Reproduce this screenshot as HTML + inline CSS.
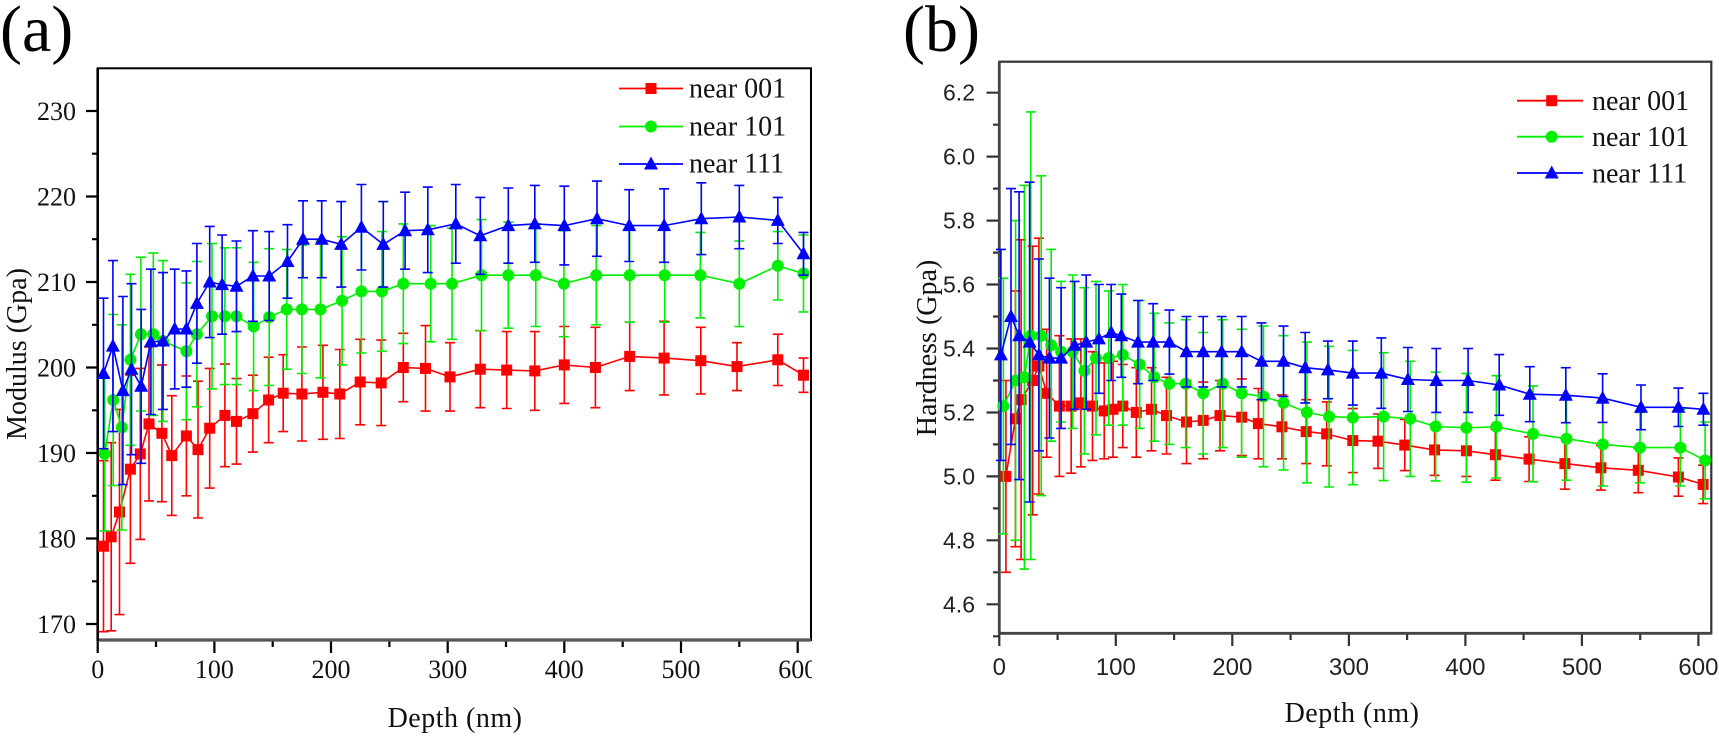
<!DOCTYPE html>
<html><head><meta charset="utf-8">
<style>
html,body{margin:0;padding:0;background:#fff;width:1719px;height:738px;overflow:hidden}
svg{display:block}
</style></head><body>
<svg id="root" width="1719" height="738" viewBox="0 0 1719 738">
<defs>
<clipPath id="ca"><rect x="0" y="0" width="812" height="738"/></clipPath>
</defs>
<rect x="0" y="0" width="1719" height="738" fill="#fff"/>

<text x="0" y="51" font-family="Liberation Serif, serif" font-size="66">(a)</text>
<text x="903" y="51" font-family="Liberation Serif, serif" font-size="66">(b)</text>

<!-- Panel A labels -->
<g font-family="Liberation Serif, serif" font-size="26" text-anchor="end" fill="#111">
<text x="76" y="633">170</text>
<text x="76" y="547.5">180</text>
<text x="76" y="462">190</text>
<text x="76" y="376.5">200</text>
<text x="76" y="291">210</text>
<text x="76" y="205.5">220</text>
<text x="76" y="120">230</text>
</g>
<g font-family="Liberation Serif, serif" font-size="26" text-anchor="middle" fill="#111" clip-path="url(#ca)">
<text x="97.7" y="678">0</text>
<text x="214.4" y="678">100</text>
<text x="331" y="678">200</text>
<text x="447.7" y="678">300</text>
<text x="564.3" y="678">400</text>
<text x="681" y="678">500</text>
<text x="797.7" y="678">600</text>
</g>
<text x="455" y="727" font-family="Liberation Serif, serif" font-size="28" text-anchor="middle" letter-spacing="0.5" fill="#111">Depth (nm)</text>
<text transform="translate(26,354) rotate(-90)" font-family="Liberation Serif, serif" font-size="28" text-anchor="middle" fill="#111">Modulus (Gpa)</text>

<!-- Panel B labels -->
<g font-family="Liberation Sans, sans-serif" font-size="23" text-anchor="end" fill="#222">
<text x="975" y="612.3">4.6</text>
<text x="975" y="548.4">4.8</text>
<text x="975" y="484.4">5.0</text>
<text x="975" y="420.5">5.2</text>
<text x="975" y="356.5">5.4</text>
<text x="975" y="292.6">5.6</text>
<text x="975" y="228.6">5.8</text>
<text x="975" y="164.7">6.0</text>
<text x="975" y="100.7">6.2</text>
</g>
<g font-family="Liberation Sans, sans-serif" font-size="24" text-anchor="middle" fill="#222">
<text x="999.3" y="675">0</text>
<text x="1115.8" y="675">100</text>
<text x="1232.3" y="675">200</text>
<text x="1348.9" y="675">300</text>
<text x="1465.4" y="675">400</text>
<text x="1581.9" y="675">500</text>
<text x="1698.4" y="675">600</text>
</g>
<text x="1352" y="722" font-family="Liberation Serif, serif" font-size="28" text-anchor="middle" letter-spacing="0.5" fill="#111">Depth (nm)</text>
<text transform="translate(936,348) rotate(-90)" font-family="Liberation Serif, serif" font-size="28" text-anchor="middle" fill="#111">Hardness (Gpa)</text>

<!-- Legends -->
<g font-family="Liberation Serif, serif" font-size="28" fill="#111">
<text x="689" y="97.5">near 001</text>
<text x="689" y="135.5">near 101</text>
<text x="689" y="172.5">near 111</text>
<text x="1592" y="110">near 001</text>
<text x="1592" y="146">near 101</text>
<text x="1592" y="182.5">near 111</text>
</g>

<g id="A"></g>
<g id="B"></g>
</svg>
<script>
(function(){
var XA=function(v){return 97.7+v*1.1666;}, YA=function(v){return 624-(v-170)*8.55;};
var XB=function(v){return 999.3+v*1.1652;}, YB=function(v){return 604.3-(v-4.6)*319.75;};

var aR=[[5,179.1,10],[11.6,180.2,11],[18.7,183.1,12],[28,188.1,11],[36.5,189.9,10],[44,193.4,9],[55,192.3,8],[63.5,189.7,7],[76,192,7],[86,190.4,8],[96,192.9,7],[109,194.4,6],[119,193.7,5],[133,194.6,4.5],[146.5,196.2,5],[159,197,4.5],[175,196.9,5.5],[193,197.1,5.5],[207.5,196.9,5.2],[225,198.3,5],[243,198.2,5],[262,200,4],[281,199.9,5],[302,198.9,4],[328,199.8,4.5],[350.6,199.7,4.5],[374.7,199.6,4.6],[400,200.3,4.5],[426.6,200,4.7],[456,201.3,4],[485.5,201.1,4.3],[517,200.8,3.9],[548,200.1,2.8],[583,200.9,3],[605,199.1,2]];
var aG=[[6,189.9,9],[13.3,196.2,10],[20.7,193,12],[28,200.9,10],[37,203.9,9],[47.7,203.9,9.5],[56,203.1,9.4],[76,201.9,8],[85,203.9,8.5],[98,206,8.5],[109,206,8],[119,206,8],[133.6,204.8,7.5],[147,205.9,8],[162,206.8,7],[175,206.8,7.5],[191,206.8,8],[209.5,207.8,7.5],[226,208.9,7.2],[243.6,208.9,7],[262,209.8,7],[285.5,209.8,6.8],[303.7,209.8,6.5],[329,210.8,6.5],[352,210.8,6.2],[375.5,210.8,6],[399.6,209.8,6.2],[427.4,210.8,5.8],[456,210.8,5.5],[486,210.8,5.5],[516.6,210.8,5],[550,209.8,5],[583,211.9,4],[605,211,4.5]];
var aB=[[5,199.3,8.8],[13,202.5,10],[21.6,197.3,11],[29,199.8,10],[37.3,197.8,9],[45.6,203,8.5],[56,203.1,8],[66,204.5,7],[76,204.5,6.8],[85,207.5,7],[96,210,6.5],[106.6,209.7,5.8],[119,209.5,5.3],[133,210.7,5.3],[147,210.7,5.2],[162.7,212.4,4.3],[176,215,4.5],[192,215,4.5],[208.7,214.4,5],[226,216.4,5],[244.8,214.4,5],[263.5,216,4.5],[283,216.1,5],[307,216.8,4.6],[328,215.4,4.5],[352,216.6,4.4],[374.7,216.8,4.5],[400,216.6,4.6],[428,217.4,4.4],[455.6,216.6,4.2],[485.5,216.6,4.3],[517.4,217.4,4.2],[550,217.6,3.7],[583,217.2,2.7],[605,213.3,2.5]];

var bR=[[5.7,5.0,0.3],[13.8,5.18,0.4],[18.7,5.24,0.5],[28.7,5.30,0.42],[34,5.345,0.4],[40.7,5.26,0.2],[51.6,5.22,0.22],[61.7,5.22,0.21],[70,5.23,0.2],[80,5.22,0.17],[90,5.205,0.15],[97.6,5.21,0.15],[106,5.22,0.13],[117.6,5.20,0.14],[130.6,5.21,0.13],[143.5,5.19,0.12],[160.7,5.17,0.13],[175,5.175,0.12],[189.4,5.19,0.11],[208,5.185,0.12],[222.4,5.165,0.11],[242.5,5.155,0.1],[263.4,5.14,0.1],[281,5.133,0.1],[303.4,5.112,0.1],[325,5.11,0.085],[348,5.098,0.08],[373.6,5.083,0.08],[400.9,5.08,0.08],[425.8,5.068,0.08],[454.7,5.054,0.07],[485.4,5.04,0.08],[516.3,5.027,0.07],[548.4,5.019,0.07],[582.8,4.998,0.06],[604,4.975,0.06]];
var bG=[[3.5,5.22,0.4],[14,5.30,0.5],[21.5,5.31,0.6],[27,5.44,0.7],[36,5.44,0.5],[44.5,5.41,0.3],[53,5.39,0.22],[63,5.39,0.24],[73,5.33,0.26],[83,5.37,0.24],[94,5.37,0.21],[106,5.38,0.22],[120.5,5.35,0.2],[133,5.31,0.2],[146,5.29,0.19],[160,5.29,0.2],[175,5.26,0.19],[191.7,5.29,0.2],[208,5.26,0.2],[226.7,5.25,0.22],[244,5.23,0.21],[264,5.20,0.22],[283,5.187,0.22],[303.4,5.184,0.21],[329.8,5.187,0.2],[352.7,5.18,0.18],[374.5,5.156,0.17],[400.9,5.152,0.17],[426.6,5.155,0.16],[458,5.133,0.15],[486.8,5.118,0.13],[518,5.1,0.13],[549.9,5.09,0.11],[584.5,5.09,0.12],[605.7,5.05,0.12]];
var bB=[[1.4,5.38,0.33],[10,5.50,0.4],[17,5.44,0.45],[26,5.42,0.5],[34,5.38,0.3],[43,5.37,0.25],[53,5.37,0.22],[64.6,5.41,0.2],[74.6,5.42,0.21],[85.5,5.43,0.17],[96,5.45,0.15],[104.7,5.44,0.13],[119,5.42,0.13],[132,5.42,0.12],[146,5.42,0.1],[160.7,5.39,0.11],[175,5.39,0.11],[190.8,5.39,0.11],[208,5.39,0.11],[225,5.36,0.12],[243.9,5.36,0.11],[262.5,5.34,0.11],[282,5.333,0.09],[303.4,5.323,0.1],[327.8,5.323,0.11],[350.7,5.303,0.1],[375,5.30,0.1],[402.3,5.30,0.1],[429,5.286,0.095],[455.3,5.257,0.086],[486.2,5.254,0.086],[517.8,5.245,0.076],[550.7,5.216,0.07],[582.8,5.216,0.06],[604.3,5.21,0.05]];

function f(n){return Math.round(n*10)/10;}
function marker(shape,x,y,c){
  if(shape==='sq') return '<rect x="'+f(x-5.5)+'" y="'+f(y-5.5)+'" width="11" height="11" fill="'+c+'"/>';
  if(shape==='ci') return '<circle cx="'+f(x)+'" cy="'+f(y)+'" r="6" fill="'+c+'"/>';
  return '<path d="M'+f(x)+' '+f(y-7.5)+'L'+f(x+7)+' '+f(y+5.5)+'L'+f(x-7)+' '+f(y+5.5)+'Z" fill="'+c+'"/>';
}
function series(data,X,Y,c,shape){
  var s='<g stroke="'+c+'" stroke-width="1.6" fill="none">';
  var d='';
  data.forEach(function(p,i){d+=(i?'L':'M')+f(X(p[0]))+' '+f(Y(p[1]));});
  s+='<path d="'+d+'"/>';
  var e='';
  data.forEach(function(p){var x=f(X(p[0])),y1=f(Y(p[1]+p[2])),y2=f(Y(p[1]-p[2]));
    e+='M'+x+' '+y1+'V'+y2+'M'+f(x-5)+' '+y1+'h10M'+f(x-5)+' '+y2+'h10';});
  s+='<path d="'+e+'"/></g>';
  data.forEach(function(p){s+=marker(shape,X(p[0]),Y(p[1]),c);});
  return s;
}
function legend(x1,x2,xm,ys,c,shape){
  return '<path d="M'+x1+' '+ys+'H'+x2+'" stroke="'+c+'" stroke-width="1.8"/>'+marker(shape,xm,ys,c);
}
var A='';
A+='<rect x="97.7" y="68.3" width="713.3" height="571.7" fill="none" stroke="#000" stroke-width="2"/>';
var t='';
for(var v=170;v<=230;v+=10){var y=f(YA(v));t+='M86 '+y+'H97.7';}
for(var v=175;v<=225;v+=10){var y=f(YA(v));t+='M92 '+y+'H97.7';}
for(var v=0;v<=600;v+=100){var x=f(XA(v));t+='M'+x+' 640V653';}
for(var v=50;v<=550;v+=100){var x=f(XA(v));t+='M'+x+' 640V647';}
A+='<path d="'+t+'" stroke="#000" stroke-width="2.2" fill="none"/>';
A+='<path d="M97.7 640H811" stroke="#555" stroke-width="3.2"/>';
A+='<path d="M97.7 68.3V641" stroke="#000" stroke-width="2.6"/>';
A+=series(aR,XA,YA,'#ff0000','sq');
A+=series(aG,XA,YA,'#00ee00','ci');
A+=series(aB,XA,YA,'#0000ff','tr');
A+=legend(619,683,651,88.5,'#ff0000','sq');
A+=legend(619,683,651,126.5,'#00ee00','ci');
A+=legend(619,683,651,164,'#0000ff','tr');
document.getElementById('A').innerHTML=A;

var B='';
B+='<rect x="999.3" y="61.7" width="712" height="571.6" fill="none" stroke="#333" stroke-width="2.2"/>';
t='';
for(var i=0;i<=8;i++){var v=4.6+i*0.2;var y=f(YB(v));t+='M986.5 '+y+'H999.3';}
for(var i=0;i<=8;i++){var v=4.5+i*0.2;var y=f(YB(v));t+='M993 '+y+'H999.3';}
for(var v=0;v<=600;v+=100){var x=f(XB(v));t+='M'+x+' 633.3V646';}
for(var v=50;v<=550;v+=100){var x=f(XB(v));t+='M'+x+' 633.3V640';}
B+='<path d="'+t+'" stroke="#333" stroke-width="2.2" fill="none"/>';
B+='<path d="M999.3 633.3H1711.3M999.3 61.7V634.5" stroke="#444" stroke-width="2.8"/>';
B+=series(bR,XB,YB,'#ff0000','sq');
B+=series(bG,XB,YB,'#00ee00','ci');
B+=series(bB,XB,YB,'#0000ff','tr');
B+=legend(1517,1583,1551.7,100.7,'#ff0000','sq');
B+=legend(1517,1583,1551.7,136.7,'#00ee00','ci');
B+=legend(1517,1583,1551.7,173,'#0000ff','tr');
document.getElementById('B').innerHTML=B;
})();
</script>
</body></html>
